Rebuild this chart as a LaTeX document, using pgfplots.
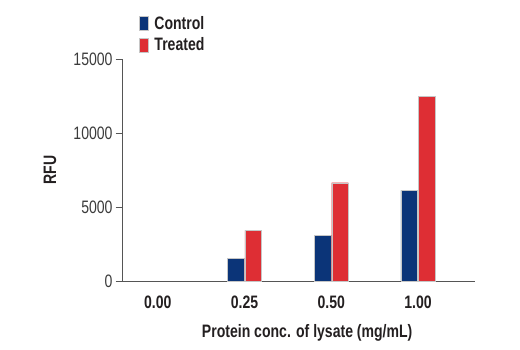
\documentclass[border=0pt]{standalone}
\usepackage{pgfplots}
\pgfplotsset{compat=1.18}
\usepackage{fontspec}
\setmainfont{Liberation Sans}[FakeStretch=0.78]
\definecolor{ctrl}{HTML}{0B3478}
\definecolor{treat}{HTML}{DE2E34}
\definecolor{txt}{HTML}{231F20}
\definecolor{axgray}{HTML}{555555}
\begin{document}
\begin{tikzpicture}
\path[use as bounding box] (0pt,0pt) rectangle (520pt,350pt);
\begin{axis}[
  at={(122.7pt,69pt)}, anchor=south west,
  scale only axis, width=352.3pt, height=222pt,
  xmin=-0.404, xmax=3.657, ymin=0, ymax=15000,
  axis x line=bottom, axis y line=left,
  axis line style={-, draw=axgray, line width=0.9pt},
  xtick={0,1,2,3}, xticklabels={0.00,0.25,0.50,1.00},
  xtick style={draw=none},
  ytick={0,5000,10000,15000},
  scaled y ticks=false,
  tick align=outside, major tick length=7pt,
  ytick style={draw=axgray, line width=0.9pt},
  /pgf/number format/assume math mode=true,
  /pgf/number format/1000 sep={},
  yticklabel style={font=\fontsize{18}{21}\selectfont, text=axgray!70!black, inner sep=3pt},
  xticklabel style={font=\bfseries\fontsize{18}{21}\selectfont, text=txt, yshift=-4pt},
  xlabel={Protein conc. of lysate (mg/mL)},
  ylabel={RFU},
  xlabel style={font=\bfseries\fontsize{18}{21}\selectfont, text=txt, at={(axis description cs:0.5236,-0.235)}, anchor=center},
  ylabel style={font=\bfseries\fontsize{18}{21}\selectfont, text=txt, at={(axis description cs:-0.2065,0.5)}, anchor=center, rotate=0},
  legend style={draw=none, fill=none, at={(axis description cs:0.045,1.198)}, anchor=north west,
    font=\bfseries\fontsize{18}{21}\selectfont, text=txt, row sep=5pt, inner sep=0pt,
    nodes={inner sep=1pt}, /tikz/every odd column/.style={column sep=5pt}},
  legend cell align=left,
  legend image code/.code={\fill[#1] (0pt,-7pt) rectangle (9.3pt,7pt);},
  clip=false,
]
\addplot[ybar, bar width=16.7pt, bar shift=-8.8pt, fill=ctrl, draw=white!55!gray, line width=0.4pt]
  coordinates {(1,1507) (2,3090) (3,6130)};
\addlegendentry{Control}
\addplot[ybar, bar width=16.7pt, bar shift=8.8pt, fill=treat, draw=white!55!gray, line width=0.4pt]
  coordinates {(1,3425) (2,6640) (3,12480)};
\addlegendentry{Treated}
\end{axis}
\end{tikzpicture}
\end{document}
